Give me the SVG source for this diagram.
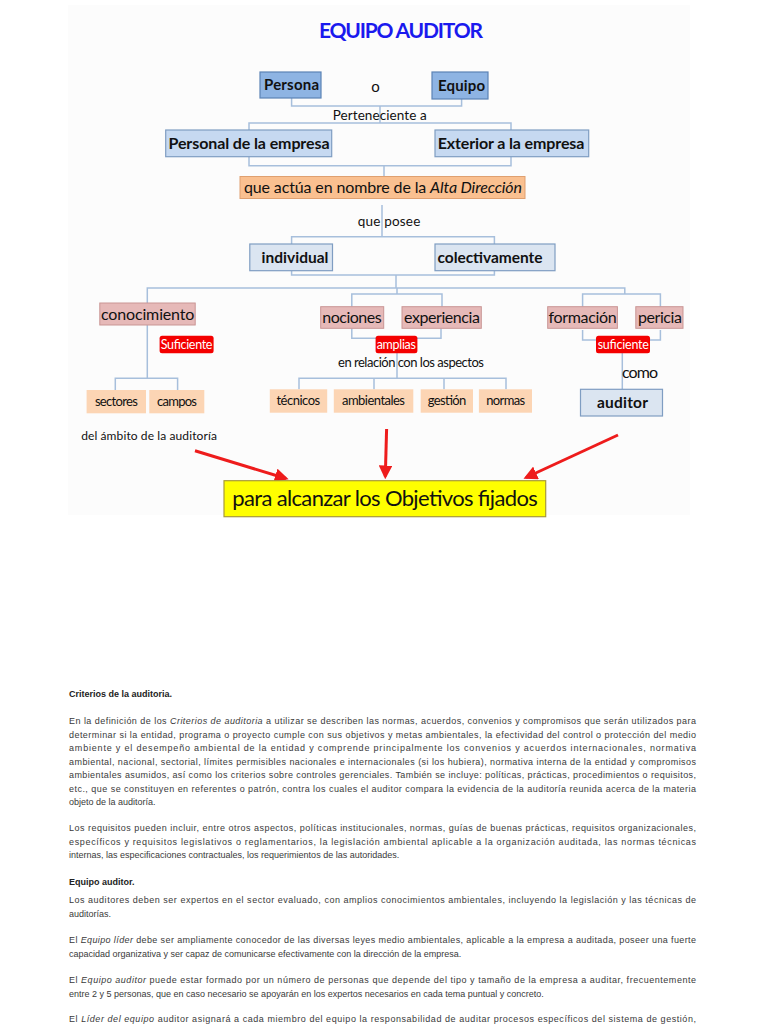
<svg xmlns="http://www.w3.org/2000/svg" width="768" height="1024" viewBox="0 0 768 1024">
<defs>
<style>
.lab{font-family:Lato,"Open Sans","Liberation Sans",sans-serif;fill:#111;text-anchor:middle}
.b{font-weight:bold}
.conn{fill:none;stroke:#a7bfdc;stroke-width:1.5}
.arr{fill:none;stroke:#ee1c1c;stroke-width:3}
.n1{fill:#8eb4e3;stroke:#5b83b5;stroke-width:1.2}
.n2{fill:#c6d9f1;stroke:#7f9dc2;stroke-width:1.2}
.n3{fill:#dbe5f1;stroke:#7f9dc2;stroke-width:1.2}
.or{fill:#fac090;stroke:#dfa070;stroke-width:1}
.pk{fill:#e6b9b8;stroke:#c99594;stroke-width:1}
.rd{fill:#f40000}
.pc{fill:#fcd5b4}
.yl{fill:#ffff00;stroke:#a89a3a;stroke-width:1.2}
.body{font-family:"Liberation Sans",Arial,sans-serif;font-size:9px;fill:#3a3a3a}
.hd{font-family:"Liberation Sans",Arial,sans-serif;font-size:9px;font-weight:bold;fill:#222}
</style>
<marker id="ah" viewBox="0 0 10 10" refX="8" refY="5" markerWidth="4.6" markerHeight="4.6" orient="auto">
<path d="M0,0 L10,5 L0,10 z" fill="#ee1c1c"/>
</marker>
</defs>
<rect x="68" y="5" width="622" height="510" fill="#fcfcfc"/>
<text class="lab b" x="401" y="38" font-size="21" style="fill:#1a1aee" textLength="164">EQUIPO AUDITOR</text>

<g id="connectors">
<path class="conn" d="M291.6,98 V106 H461.6 V99 M380,106 V123"/>
<path class="conn" d="M249,130 V123 H511 V130"/>
<path class="conn" d="M249,157 V165.7 H511 V157 M384,165.7 V176"/>
<path class="conn" d="M382,205 V236.7"/>
<path class="conn" d="M291.6,244 V236.7 H494.4 V244"/>
<path class="conn" d="M291.6,271 V275 H494.4 V271 M396,275 V288"/>
<path class="conn" d="M147.3,303 V288 H624.8 V294 M397,288 V294"/>
<path class="conn" d="M351.8,306.7 V294 H442 V306.7"/>
<path class="conn" d="M582.6,306.7 V294 H660.4 V306.7"/>
<path class="conn" d="M147.3,325 V378.3 M115.3,390 V378.3 H177.6 V390"/>
<path class="conn" d="M351.8,328.3 V338.3 H441 V328.3"/>
<path class="conn" d="M397,353 V378.3 M299,389.3 V378.3 H506 V389.3 M374,378.3 V389.3 M444,378.3 V389.3"/>
<path class="conn" d="M582.6,330 V340 H660.4 V330"/>
<path class="conn" d="M622.3,353 V389.3"/>
<path class="arr" d="M195,450.7 L286,478.5" marker-end="url(#ah)"/>
<path class="arr" d="M386.6,429 L385.3,476.5" marker-end="url(#ah)"/>
<path class="arr" d="M618,435 L526,477.5" marker-end="url(#ah)"/>
</g>

<g id="n-persona"><rect class="n1" x="260" y="72" width="61" height="26"/><text class="lab b" x="291.5" y="90" font-size="15" textLength="55">Persona</text></g>
<g id="t-o"><text class="lab" x="375.6" y="92" font-size="15">o</text></g>
<g id="n-equipo"><rect class="n1" x="432" y="72" width="56" height="27"/><text class="lab b" x="461.5" y="90.5" font-size="15" textLength="47">Equipo</text></g>
<g id="t-pert"><text class="lab" x="379.7" y="120" font-size="13.5" textLength="94">Perteneciente a</text></g>
<g id="n-personal"><rect class="n2" x="165.7" y="130" width="166" height="26.7"/><text class="lab b" x="249" y="149" font-size="16" textLength="161">Personal de la empresa</text></g>
<g id="n-exterior"><rect class="n2" x="435" y="130" width="153.7" height="26.7"/><text class="lab b" x="511" y="149" font-size="16" textLength="146.7">Exterior a la empresa</text></g>
<g id="n-alta"><rect class="or" x="240" y="176.5" width="285" height="22"/><text class="lab" x="383" y="193" font-size="16" textLength="278">que actúa en nombre de la <tspan font-style="italic">Alta Dirección</tspan></text></g>
<g id="t-posee"><text class="lab" x="389" y="226" font-size="13.5" textLength="62.7">que posee</text></g>
<g id="n-individual"><rect class="n3" x="249.8" y="244" width="82.7" height="26.7"/><text class="lab b" x="295" y="263" font-size="15.5" textLength="66.8">individual</text></g>
<g id="n-colect"><rect class="n3" x="435" y="244" width="120" height="26.7"/><text class="lab b" x="490" y="263" font-size="15.5" textLength="105">colectivamente</text></g>
<g id="n-conoc"><rect class="pk" x="99.8" y="303" width="95.4" height="22"/><text class="lab" x="147.7" y="319.5" font-size="16" textLength="93.4">conocimiento</text></g>
<g id="n-nociones"><rect class="pk" x="320.7" y="306.7" width="63" height="21.6"/><text class="lab" x="352" y="323" font-size="16" textLength="59.4">nociones</text></g>
<g id="n-experiencia"><rect class="pk" x="402" y="306.7" width="79.3" height="21.6"/><text class="lab" x="442" y="323" font-size="16" textLength="75.8">experiencia</text></g>
<g id="n-formacion"><rect class="pk" x="547.7" y="306.7" width="69.7" height="21.6"/><text class="lab" x="582.6" y="323" font-size="16" textLength="68">formación</text></g>
<g id="n-pericia"><rect class="pk" x="635.8" y="306.7" width="47.2" height="21.6"/><text class="lab" x="660" y="323" font-size="16" textLength="43.8">pericia</text></g>
<g id="n-suf1"><rect class="rd" x="159.6" y="335.7" width="54" height="17.6" rx="2.5"/><text class="lab" x="186.6" y="349" font-size="12.5" textLength="51.7" style="fill:#fff">Suficiente</text></g>
<g id="n-amplias"><rect class="rd" x="375.6" y="335.7" width="41.8" height="17.6" rx="2.5"/><text class="lab" x="396.3" y="349" font-size="12.5" textLength="39.3" style="fill:#fff">amplias</text></g>
<g id="n-suf2"><rect class="rd" x="596" y="335.7" width="54" height="17.6" rx="2.5"/><text class="lab" x="623.3" y="349" font-size="12.5" textLength="51.3" style="fill:#fff">suficiente</text></g>
<g id="t-relacion"><text class="lab" x="411" y="367" font-size="13" textLength="146">en relación con los aspectos</text></g>
<g id="t-como"><text class="lab" x="640" y="378" font-size="16" textLength="36">como</text></g>
<g id="n-sectores"><rect class="pc" x="86.6" y="390" width="59.4" height="23.3"/><text class="lab" x="116.4" y="406" font-size="13" textLength="43">sectores</text></g>
<g id="n-campos"><rect class="pc" x="149.3" y="390" width="55" height="23.3"/><text class="lab" x="177" y="406" font-size="13" textLength="40">campos</text></g>
<g id="n-tecnicos"><rect class="pc" x="269.8" y="389.3" width="57.4" height="23.4"/><text class="lab" x="298.3" y="405" font-size="13" textLength="43.8">técnicos</text></g>
<g id="n-ambientales"><rect class="pc" x="333.8" y="389.3" width="79.5" height="23.4"/><text class="lab" x="373.5" y="405" font-size="13" textLength="63">ambientales</text></g>
<g id="n-gestion"><rect class="pc" x="420.7" y="389.3" width="52.3" height="23.4"/><text class="lab" x="447" y="405" font-size="13" textLength="38.6">gestión</text></g>
<g id="n-normas"><rect class="pc" x="478.9" y="389.3" width="53.1" height="23.4"/><text class="lab" x="505.7" y="405" font-size="13" textLength="39">normas</text></g>
<g id="n-auditor"><rect class="n3" x="580.5" y="389.3" width="82" height="26.7"/><text class="lab b" x="622.5" y="408" font-size="15.5" textLength="51">auditor</text></g>
<g id="t-ambito"><text class="lab" x="149" y="440" font-size="12" textLength="135.7">del ámbito de la auditoría</text></g>
<g id="n-objetivos"><rect class="yl" x="224" y="480.7" width="321.7" height="36"/><text class="lab" x="385" y="506" font-size="22" textLength="305.5">para alcanzar los Objetivos fijados</text></g>

<g id="body">
<text class="hd" x="69" y="697">Criterios de la auditoria.</text>
<text class="body" x="69" y="724" textLength="627">En la definición de los <tspan font-style="italic">Criterios de auditoria</tspan> a utilizar se describen las normas, acuerdos, convenios y compromisos que serán utilizados para</text>
<text class="body" x="69" y="737.5" textLength="627">determinar si la entidad, programa o proyecto cumple con sus objetivos y metas ambientales, la efectividad del control o protección del medio</text>
<text class="body" x="69" y="751" textLength="627">ambiente y el desempeño ambiental de la entidad y comprende principalmente los convenios y acuerdos internacionales, normativa</text>
<text class="body" x="69" y="764.5" textLength="627">ambiental, nacional, sectorial, límites permisibles nacionales e internacionales (si los hubiera), normativa interna de la entidad y compromisos</text>
<text class="body" x="69" y="778" textLength="627">ambientales asumidos, así como los criterios sobre controles gerenciales. También se incluye: políticas, prácticas, procedimientos o requisitos,</text>
<text class="body" x="69" y="791.5" textLength="627">etc., que se constituyen en referentes o patrón, contra los cuales el auditor compara la evidencia de la auditoría reunida acerca de la materia</text>
<text class="body" x="69" y="805">objeto de la auditoría.</text>
<text class="body" x="69" y="831" textLength="627">Los requisitos pueden incluir, entre otros aspectos, políticas institucionales, normas, guías de buenas prácticas, requisitos organizacionales,</text>
<text class="body" x="69" y="844.5" textLength="627">específicos y requisitos legislativos o reglamentarios, la legislación ambiental aplicable a la organización auditada, las normas técnicas</text>
<text class="body" x="69" y="858">internas, las especificaciones contractuales, los requerimientos de las autoridades.</text>
<text class="hd" x="69" y="885">Equipo auditor.</text>
<text class="body" x="69" y="903" textLength="627">Los auditores deben ser expertos en el sector evaluado, con amplios conocimientos ambientales, incluyendo la legislación y las técnicas de</text>
<text class="body" x="69" y="916.5">auditorías.</text>
<text class="body" x="69" y="943" textLength="627">El <tspan font-style="italic">Equipo líder</tspan> debe ser ampliamente conocedor de las diversas leyes medio ambientales, aplicable a la empresa a auditada, poseer una fuerte</text>
<text class="body" x="69" y="956.5">capacidad organizativa y ser capaz de comunicarse efectivamente con la dirección de la empresa.</text>
<text class="body" x="69" y="983" textLength="627">El <tspan font-style="italic">Equipo auditor</tspan> puede estar formado por un número de personas que depende del tipo y tamaño de la empresa a auditar, frecuentemente</text>
<text class="body" x="69" y="996.5">entre 2 y 5 personas, que en caso necesario se apoyarán en los expertos necesarios en cada tema puntual y concreto.</text>
<text class="body" x="69" y="1022" textLength="627">El <tspan font-style="italic">Líder del equipo</tspan> auditor asignará a cada miembro del equipo la responsabilidad de auditar procesos específicos del sistema de gestión,</text>
</g>
</svg>
